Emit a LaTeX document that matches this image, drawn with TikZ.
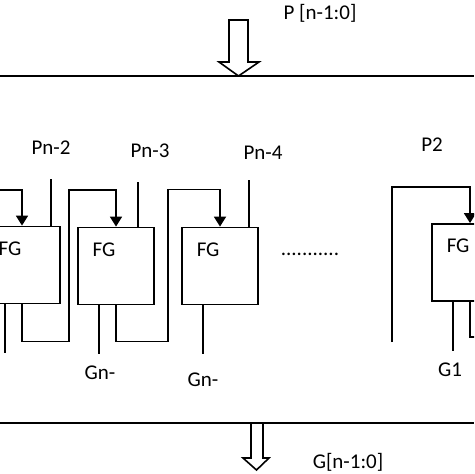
\documentclass[tikz,border=0pt]{standalone}
\usepackage{fontspec}
\setmainfont{Carlito}
\usetikzlibrary{calc,arrows.meta}
\begin{document}
\begin{tikzpicture}[x=0.5pt,y=-0.5pt,
    fgbox/.style={draw,line width=0.9pt,minimum width=38pt,minimum height=38.5pt,inner sep=0pt},
    wire/.style={line width=0.9pt},
    feed/.style={wire,-{Triangle[width=6pt,length=5pt]}},
    bus/.style={draw,line width=0.8pt,line join=miter},
    lbl/.style={font=\fontsize{10.5}{12}\selectfont,inner sep=0pt}]
  \useasboundingbox (0,0) rectangle (474,474);
  \clip (0,0) rectangle (474,474);
  \fill[white] (0,0) rectangle (474,474);
  % frame and bus arrows
  \draw[wire] (0,76) -- (474,76);
  \draw[wire] (0,423) -- (474,423);
  \draw[bus] (229,20) -- (248,20) -- (248,62) -- (259,62) -- (238.5,76) -- (219,62) -- (229,62) -- cycle;
  \draw[bus] (251,423) -- (263,423) -- (263,458) -- (269,458) -- (256.5,470) -- (243,458) -- (251,458) -- cycle;
  \node[lbl] (pbus) at (320,13) {P [n-1:0]};
  \node[lbl] (gbus) at (348,462) {G[n-1:0]};
  % FG cells
  \node[fgbox] (fg1) at (22,265) {};
  \node[fgbox] (fg2) at (116,266) {};
  \node[fgbox] (fg3) at (220,266) {};
  \node[fgbox] (fg4) at (470,262.5) {};
  \foreach \c in {fg1,fg2,fg3,fg4} {
    \node[lbl] (\c t) at ($(\c.north west)+(27,23)$) {FG};
  }
  % propagate inputs
  \draw[wire] ($(fg1.north east)+(-10,0)$) -- ++(0,-47);
  \draw[wire] ($(fg2.north east)+(-17,0)$) -- ++(0,-45);
  \draw[wire] ($(fg3.north east)+(-10,0)$) -- ++(0,-47);
  \node[lbl] (p2l) at (51,148) {Pn-2};
  \node[lbl] (p3l) at (150,151) {Pn-3};
  \node[lbl] (p4l) at (263,153) {Pn-4};
  \node[lbl] (p1l) at (432,145) {P2};
  % generate outputs
  \foreach \c in {fg1,fg2,fg3,fg4} {
    \draw[wire] ($(\c.south west)+(22,0)$) -- ++(0,49);
  }
  \node[lbl] (g2l) at (100,373) {Gn-};
  \node[lbl] (g3l) at (203,380) {Gn-};
  \node[lbl] (g4l) at (450,370) {G1};
  % carry chain
  \coordinate (cin) at (0,190);
  \draw[feed] (cin) -| (fg1.north);
  \draw[feed] (fg1.south) -- ++(0,37) -| ($(fg1.north east)!0.5!(fg2.north west)+(0,-36)$) -| (fg2.north);
  \draw[feed] (fg2.south) -- ++(0,36) -| ($(fg2.north east)!0.5!(fg3.north west)+(0,-37)$) -| (fg3.north);
  \coordinate (c4) at (392,342);
  \draw[feed] (c4) -- ++(0,-155) -| (fg4.north);
  \draw[wire] (fg4.south) -- ++(0,35) -- ++(20,0);
  \node[lbl] (dots) at (310,254) {...........};
\end{tikzpicture}
\end{document}
